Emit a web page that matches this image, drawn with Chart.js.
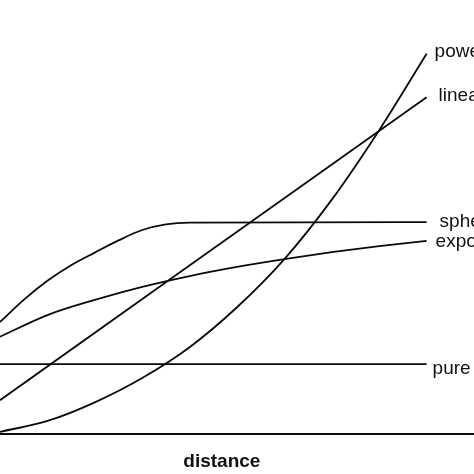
<!DOCTYPE html>
<html>
<head>
<meta charset="utf-8">
<script src="https://cdn.jsdelivr.net/npm/chart.js@4"></script>
<style>
  html, body { margin: 0; padding: 0; background: #fff; }
  #wrap { width: 474px; height: 474px; }
</style>
</head>
<body>
<div id="wrap"><canvas id="c"></canvas></div>
<script>
// distance values (arbitrary units)
const distances = [0, 10, 20, 30, 40, 50, 60, 70, 80, 90];
const powerValues = [0.5, 3.0, 7.3, 12.9, 20.0, 29.2, 40.3, 54.0, 70.0, 87.6];
const linearDistances = [0, 90];
const linearValues = [7.8, 77.6];
const sphericalDistances = [0, 5, 10, 15, 20, 25, 30, 35, 40, 90];
const sphericalValues = [25.8, 30.9, 35.3, 38.9, 41.8, 44.6, 47.0, 48.3, 48.7, 48.8];
const exponentialValues = [22.4, 27.4, 30.9, 33.9, 36.4, 38.5, 40.3, 41.9, 43.3, 44.5];
const nuggetDistances = [0, 90];
const nuggetValues = [16.1, 16.1];
const seriesNames = ['power', 'linear', 'spherical', 'exponential', 'pure nugget'];
const axisTitle = 'distance';

const pts = (xs, ys) => xs.map((x, i) => ({ x: x, y: ys[i] }));
const lineStyle = { borderColor: '#0a0a0a', borderWidth: 1.8, pointRadius: 0, fill: false, cubicInterpolationMode: 'monotone' };

const labelOffsets = [
  { dx: 8, dy: 3 },
  { dx: 12, dy: 4 },
  { dx: 13, dy: 5 },
  { dx: 9, dy: 6 },
  { dx: 6, dy: 10 }
];

const endLabels = {
  id: 'endLabels',
  afterDatasetsDraw(chart) {
    const ctx = chart.ctx;
    ctx.save();
    ctx.font = '19px "Liberation Sans", Arial, sans-serif';
    ctx.fillStyle = '#111';
    ctx.textBaseline = 'alphabetic';
    ctx.textAlign = 'left';
    chart.data.datasets.forEach((ds, i) => {
      const meta = chart.getDatasetMeta(i);
      const last = meta.data[meta.data.length - 1];
      const o = labelOffsets[i];
      ctx.fillText(ds.label, last.x + o.dx, last.y + o.dy);
    });
    ctx.restore();
  }
};

const axisLabel = {
  id: 'axisLabel',
  afterDraw(chart) {
    const ctx = chart.ctx;
    const a = chart.chartArea;
    ctx.save();
    ctx.font = 'bold 19px "Liberation Sans", Arial, sans-serif';
    ctx.fillStyle = '#111';
    ctx.textAlign = 'center';
    ctx.textBaseline = 'alphabetic';
    ctx.fillText(axisTitle, a.left + (a.right - a.left) * 0.468, a.bottom + 33);
    ctx.restore();
  }
};

new Chart(document.getElementById('c'), {
  type: 'line',
  data: {
    datasets: [
      Object.assign({ label: seriesNames[0], data: pts(distances, powerValues) }, lineStyle),
      Object.assign({ label: seriesNames[1], data: pts(linearDistances, linearValues) }, lineStyle),
      Object.assign({ label: seriesNames[2], data: pts(sphericalDistances, sphericalValues) }, lineStyle),
      Object.assign({ label: seriesNames[3], data: pts(distances, exponentialValues) }, lineStyle),
      Object.assign({ label: seriesNames[4], data: pts(nuggetDistances, nuggetValues) }, lineStyle)
    ]
  },
  options: {
    responsive: true,
    maintainAspectRatio: false,
    animation: false,
    clip: false,
    layout: { padding: { left: 0, right: 0, top: 0, bottom: 40 } },
    plugins: { legend: { display: false }, tooltip: { enabled: false } },
    scales: {
      x: {
        type: 'linear', min: 0, max: 100,
        ticks: { display: false },
        grid: { display: false, drawTicks: false },
        border: { display: true, color: '#0a0a0a', width: 2 }
      },
      y: {
        type: 'linear', min: 0, max: 100, display: false
      }
    }
  },
  plugins: [endLabels, axisLabel]
});
</script>
</body>
</html>
